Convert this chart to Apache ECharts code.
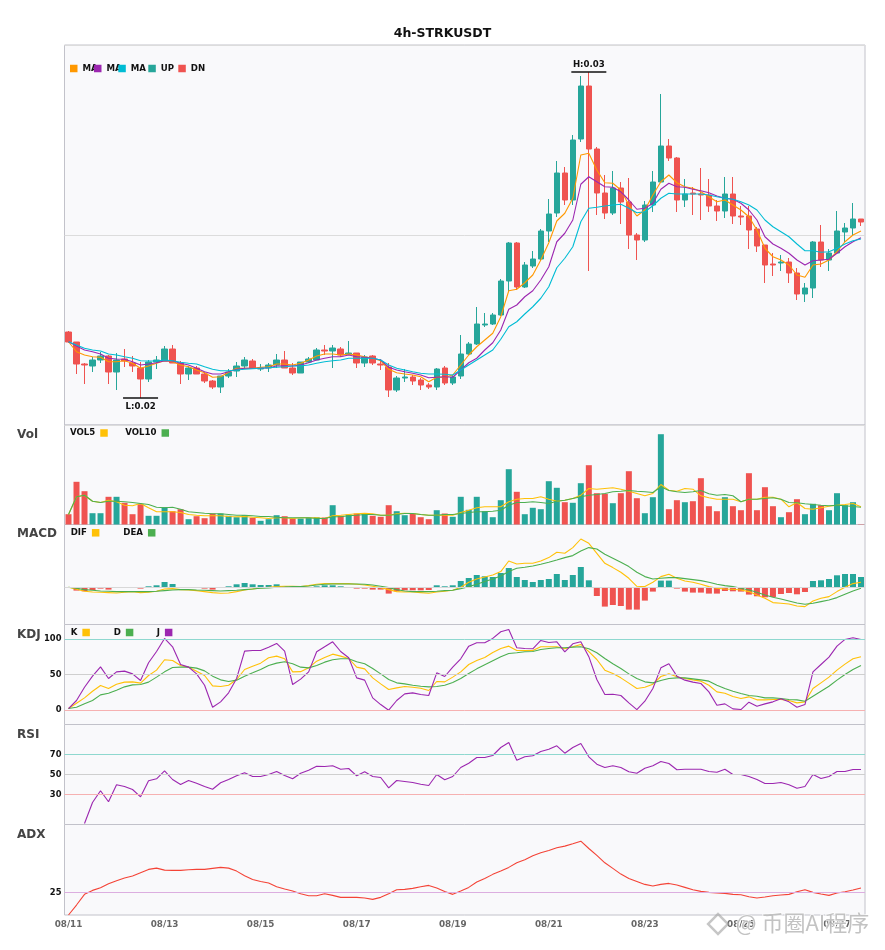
<!DOCTYPE html>
<html>
<head>
<meta charset="utf-8">
<title>4h-STRKUSDT</title>
<script src="https://cdn.jsdelivr.net/npm/echarts@6/dist/echarts.min.js"></script>
<style>
html, body { margin: 0; padding: 0; background: #fff; }
#chart { width: 885px; height: 950px; }
</style>
</head>
<body>
<div id="chart"></div>
<script>
// ---- values (100 x 4h candles from 08/11) ----
var open = [0.01892,0.01852,0.01764,0.01756,0.01780,0.01796,0.01732,0.01784,0.01768,0.01748,
0.01704,0.01772,0.01776,0.01824,0.01768,0.01724,0.01748,0.01724,0.01696,0.01672,
0.01716,0.01736,0.01756,0.01776,0.01744,0.01748,0.01760,0.01780,0.01748,0.01728,
0.01772,0.01780,0.01820,0.01816,0.01824,0.01804,0.01808,0.01768,0.01796,0.01764,
0.01752,0.01660,0.01708,0.01712,0.01700,0.01680,0.01672,0.01748,0.01688,0.01716,
0.01804,0.01844,0.01920,0.01924,0.01960,0.02096,0.02248,0.02072,0.02156,0.02184,
0.02296,0.02368,0.02528,0.02420,0.02664,0.02876,0.02624,0.02448,0.02368,0.02468,
0.02412,0.02280,0.02260,0.02400,0.02492,0.02636,0.02588,0.02420,0.02448,0.02444,
0.02440,0.02396,0.02376,0.02444,0.02356,0.02356,0.02304,0.02240,0.02164,0.02168,
0.02172,0.02128,0.02044,0.02068,0.02252,0.02180,0.02208,0.02292,0.02308,0.02344];

var close = [0.01852,0.01764,0.01760,0.01780,0.01796,0.01732,0.01780,0.01776,0.01756,0.01704,
0.01772,0.01780,0.01824,0.01768,0.01724,0.01748,0.01724,0.01696,0.01672,0.01716,
0.01732,0.01756,0.01780,0.01748,0.01748,0.01760,0.01780,0.01748,0.01728,0.01772,
0.01784,0.01820,0.01816,0.01828,0.01800,0.01808,0.01768,0.01792,0.01768,0.01760,
0.01660,0.01708,0.01712,0.01696,0.01680,0.01672,0.01744,0.01688,0.01712,0.01804,
0.01844,0.01924,0.01924,0.01960,0.02096,0.02248,0.02072,0.02160,0.02184,0.02296,
0.02364,0.02528,0.02420,0.02660,0.02876,0.02624,0.02448,0.02368,0.02468,0.02412,
0.02280,0.02260,0.02400,0.02492,0.02636,0.02588,0.02420,0.02444,0.02444,0.02440,
0.02396,0.02376,0.02444,0.02356,0.02352,0.02300,0.02236,0.02160,0.02160,0.02172,
0.02128,0.02044,0.02068,0.02252,0.02180,0.02208,0.02296,0.02308,0.02344,0.02332];

var high = [0.01896,0.01852,0.01768,0.01792,0.01812,0.01800,0.01808,0.01824,0.01796,0.01772,
0.01780,0.01796,0.01836,0.01840,0.01776,0.01756,0.01756,0.01732,0.01700,0.01716,
0.01744,0.01772,0.01792,0.01784,0.01764,0.01768,0.01804,0.01816,0.01768,0.01772,
0.01792,0.01828,0.01840,0.01840,0.01832,0.01856,0.01808,0.01800,0.01800,0.01784,
0.01768,0.01716,0.01744,0.01720,0.01708,0.01688,0.01748,0.01756,0.01720,0.01880,
0.01852,0.01992,0.01968,0.01968,0.02104,0.02252,0.02252,0.02172,0.02216,0.02304,
0.02424,0.02576,0.02552,0.02680,0.02916,0.02932,0.02632,0.02520,0.02536,0.02492,
0.02508,0.02288,0.02416,0.02536,0.02844,0.02664,0.02592,0.02504,0.02472,0.02548,
0.02504,0.02420,0.02512,0.02512,0.02396,0.02396,0.02312,0.02240,0.02208,0.02200,
0.02188,0.02148,0.02088,0.02256,0.02320,0.02224,0.02376,0.02328,0.02408,0.02344];

var low = [0.01848,0.01724,0.01684,0.01732,0.01768,0.01684,0.01660,0.01752,0.01732,0.01628,
0.01692,0.01744,0.01776,0.01768,0.01684,0.01700,0.01724,0.01688,0.01664,0.01648,
0.01708,0.01712,0.01744,0.01748,0.01736,0.01732,0.01748,0.01748,0.01720,0.01728,
0.01768,0.01780,0.01800,0.01748,0.01792,0.01804,0.01748,0.01752,0.01760,0.01740,
0.01632,0.01652,0.01692,0.01680,0.01660,0.01664,0.01660,0.01680,0.01680,0.01704,
0.01800,0.01840,0.01912,0.01920,0.01956,0.02056,0.02060,0.02068,0.02148,0.02176,
0.02252,0.02352,0.02400,0.02400,0.02652,0.02136,0.02360,0.02344,0.02360,0.02324,
0.02224,0.02180,0.02252,0.02372,0.02492,0.02576,0.02372,0.02392,0.02360,0.02340,
0.02372,0.02336,0.02348,0.02324,0.02320,0.02224,0.02212,0.02088,0.02116,0.02136,
0.02088,0.02020,0.02012,0.02028,0.02152,0.02136,0.02208,0.02252,0.02280,0.02316];

var ma5 = [0.01853,0.01813,0.01800,0.01793,0.01791,0.01773,0.01773,0.01777,0.01767,0.01747,
0.01756,0.01767,0.01777,0.01773,0.01760,0.01753,0.01740,0.01729,0.01711,0.01713,
0.01731,0.01747,0.01747,0.01747,0.01751,0.01753,0.01764,0.01764,0.01760,0.01767,
0.01780,0.01796,0.01804,0.01804,0.01800,0.01804,0.01800,0.01793,0.01787,0.01777,
0.01743,0.01729,0.01724,0.01720,0.01713,0.01693,0.01711,0.01711,0.01720,0.01760,
0.01800,0.01833,0.01860,0.01887,0.01953,0.02057,0.02063,0.02089,0.02120,0.02180,
0.02249,0.02336,0.02367,0.02427,0.02600,0.02607,0.02540,0.02489,0.02487,0.02460,
0.02400,0.02356,0.02380,0.02440,0.02493,0.02520,0.02489,0.02473,0.02467,0.02453,
0.02433,0.02413,0.02420,0.02400,0.02380,0.02353,0.02300,0.02227,0.02193,0.02180,
0.02160,0.02120,0.02111,0.02160,0.02164,0.02180,0.02213,0.02253,0.02280,0.02296];

var ma10 = [0.01853,0.01836,0.01820,0.01813,0.01804,0.01787,0.01784,0.01783,0.01773,0.01760,
0.01764,0.01769,0.01777,0.01776,0.01767,0.01760,0.01747,0.01733,0.01724,0.01724,
0.01733,0.01743,0.01747,0.01747,0.01747,0.01749,0.01756,0.01757,0.01756,0.01760,
0.01769,0.01780,0.01787,0.01793,0.01793,0.01800,0.01793,0.01791,0.01787,0.01780,
0.01751,0.01740,0.01733,0.01727,0.01720,0.01709,0.01711,0.01713,0.01711,0.01740,
0.01769,0.01787,0.01820,0.01849,0.01900,0.01983,0.02000,0.02033,0.02057,0.02100,
0.02153,0.02253,0.02287,0.02340,0.02483,0.02513,0.02493,0.02473,0.02471,0.02453,
0.02420,0.02383,0.02387,0.02407,0.02463,0.02487,0.02473,0.02471,0.02463,0.02457,
0.02449,0.02436,0.02427,0.02423,0.02407,0.02380,0.02340,0.02273,0.02244,0.02227,
0.02207,0.02180,0.02160,0.02177,0.02180,0.02183,0.02207,0.02233,0.02253,0.02269];

var ma20 = [0.01853,0.01840,0.01827,0.01820,0.01816,0.01804,0.01800,0.01793,0.01787,0.01777,
0.01776,0.01776,0.01780,0.01777,0.01771,0.01767,0.01764,0.01753,0.01743,0.01737,
0.01737,0.01740,0.01743,0.01745,0.01747,0.01749,0.01751,0.01753,0.01756,0.01756,
0.01760,0.01767,0.01773,0.01777,0.01780,0.01787,0.01787,0.01787,0.01787,0.01780,
0.01760,0.01747,0.01740,0.01733,0.01727,0.01724,0.01724,0.01723,0.01720,0.01740,
0.01760,0.01780,0.01800,0.01820,0.01863,0.01913,0.01933,0.01964,0.01993,0.02027,
0.02073,0.02149,0.02187,0.02233,0.02333,0.02387,0.02391,0.02396,0.02400,0.02403,
0.02387,0.02369,0.02373,0.02397,0.02427,0.02447,0.02444,0.02444,0.02444,0.02444,
0.02440,0.02433,0.02427,0.02423,0.02413,0.02400,0.02380,0.02340,0.02313,0.02293,
0.02273,0.02244,0.02217,0.02217,0.02211,0.02213,0.02227,0.02244,0.02257,0.02264];

// volume, millions
var vol = [1.03,4.27,3.33,1.13,1.13,2.77,2.77,2.17,1.03,2.03,
0.87,0.87,1.73,1.33,1.53,0.53,0.83,0.63,1.10,1.10,
0.87,0.73,0.93,0.67,0.37,0.53,0.93,0.83,0.60,0.60,
0.67,0.73,0.70,1.93,0.87,1.00,1.10,1.07,0.87,0.77,
1.93,1.33,0.93,1.07,0.73,0.53,1.43,1.10,0.77,2.77,
1.47,2.77,1.33,0.73,2.43,5.53,3.27,1.03,1.67,1.53,
4.33,3.67,2.23,2.17,4.13,5.93,3.13,3.07,2.13,3.13,
5.33,2.63,1.13,2.73,9.03,1.53,2.43,2.23,2.33,4.63,
1.83,1.33,2.73,1.83,1.43,5.13,1.43,3.73,1.83,0.73,
1.23,2.53,1.03,2.07,1.93,1.43,3.13,1.93,2.23,0.03];

var vol5 = [1.00,2.77,2.93,2.33,2.20,2.43,2.27,1.93,1.87,2.10,
1.67,1.27,1.27,1.27,1.20,1.00,0.93,0.87,0.87,0.87,
0.80,0.77,0.80,0.73,0.67,0.60,0.67,0.67,0.60,0.67,
0.67,0.67,0.60,0.87,0.93,1.00,1.07,1.13,1.07,0.93,
0.93,1.07,1.13,1.10,1.00,0.93,0.93,0.93,0.93,1.20,
1.43,1.67,1.77,1.77,1.77,2.27,2.53,2.60,2.60,2.77,
2.53,2.33,2.43,2.60,2.93,3.60,3.53,3.60,3.67,3.53,
3.33,3.10,2.87,3.10,4.00,3.43,3.33,3.60,3.53,2.87,
2.67,2.53,2.53,2.53,2.27,2.53,2.53,2.73,2.73,2.53,
1.77,2.20,1.60,1.53,1.67,1.83,1.93,2.00,2.10,1.77];

var vol10 = [1.00,2.77,2.93,2.33,2.20,2.33,2.33,2.27,2.20,2.10,
2.00,1.73,1.67,1.73,1.53,1.27,1.20,1.13,1.07,1.07,
1.00,0.93,0.93,0.87,0.80,0.80,0.73,0.67,0.67,0.67,
0.67,0.60,0.60,0.77,0.77,0.87,0.93,1.00,1.00,0.93,
0.93,1.00,1.10,1.10,1.00,0.93,0.93,1.00,1.00,1.10,
1.20,1.27,1.27,1.33,1.43,1.93,2.20,2.20,2.27,2.20,
2.10,2.33,2.43,2.60,2.77,2.93,3.00,3.10,3.27,3.33,
3.40,3.33,3.27,3.20,3.77,3.40,3.27,3.20,3.27,3.40,
3.07,2.93,3.00,2.87,2.27,2.53,2.53,2.60,2.67,2.53,
2.20,2.17,2.07,2.00,1.93,1.87,1.93,1.87,1.80,1.73];

var dif = [0,-2.0e-5,-4.0e-5,-4.7e-5,-5.0e-5,-5.3e-5,-5.7e-5,-5.0e-5,-4.3e-5,-5.3e-5,
-5.0e-5,-4.0e-5,-1.7e-5,-1.3e-5,-2.3e-5,-2.7e-5,-3.3e-5,-4.3e-5,-5.3e-5,-6.0e-5,
-5.7e-5,-4.3e-5,-2.7e-5,-1.7e-5,-0.7e-5,0,0.7e-5,1.0e-5,1.0e-5,0.7e-5,
1.7e-5,3.0e-5,3.7e-5,3.7e-5,3.7e-5,3.7e-5,3.0e-5,2.3e-5,1.0e-5,-0.3e-5,
-2.3e-5,-4.3e-5,-4.7e-5,-4.7e-5,-5.3e-5,-6.0e-5,-4.7e-5,-4.0e-5,-3.0e-5,0,
5.0e-5,8.3e-5,10.3e-5,12.3e-5,15.7e-5,26.3e-5,23.3e-5,24.0e-5,24.0e-5,26.3e-5,
29.7e-5,35.0e-5,34.0e-5,39.7e-5,48.3e-5,44.0e-5,34.0e-5,24.0e-5,19.7e-5,15.0e-5,
9.0e-5,1.0e-5,0.7e-5,5.0e-5,10.7e-5,13.0e-5,9.0e-5,6.3e-5,5.0e-5,3.0e-5,
0.7e-5,-1.0e-5,-1.7e-5,-2.0e-5,-2.7e-5,-4.3e-5,-7.7e-5,-11.0e-5,-15.3e-5,-16.0e-5,
-16.7e-5,-18.7e-5,-19.3e-5,-13.7e-5,-11.0e-5,-9.3e-5,-4.3e-5,0,3.7e-5,5.0e-5];

var dea = [0,-1.0e-5,-2.3e-5,-3.0e-5,-3.7e-5,-4.0e-5,-4.3e-5,-4.3e-5,-4.3e-5,-4.3e-5,
-4.3e-5,-4.0e-5,-3.3e-5,-2.7e-5,-2.3e-5,-2.3e-5,-2.7e-5,-3.0e-5,-3.3e-5,-3.7e-5,
-3.3e-5,-3.0e-5,-2.3e-5,-1.7e-5,-1.0e-5,-0.7e-5,0,0.3e-5,0.7e-5,0.7e-5,
1.3e-5,2.3e-5,3.0e-5,3.3e-5,3.3e-5,3.3e-5,3.3e-5,3.0e-5,2.3e-5,1.0e-5,
-0.3e-5,-2.3e-5,-3.7e-5,-4.3e-5,-4.3e-5,-4.3e-5,-4.0e-5,-3.3e-5,-3.0e-5,-1.3e-5,
0.7e-5,3.0e-5,5.7e-5,8.3e-5,11.3e-5,15.7e-5,19.0e-5,20.0e-5,21.3e-5,23.0e-5,
25.0e-5,27.3e-5,29.7e-5,31.7e-5,36.3e-5,39.7e-5,38.3e-5,33.0e-5,29.0e-5,25.0e-5,
20.7e-5,15.0e-5,10.7e-5,8.3e-5,9.0e-5,9.7e-5,9.7e-5,8.7e-5,7.7e-5,6.7e-5,
5.0e-5,3.0e-5,1.7e-5,0.7e-5,-1.0e-5,-2.7e-5,-5.0e-5,-7.7e-5,-10.0e-5,-11.7e-5,
-13.7e-5,-15.7e-5,-17.0e-5,-16.0e-5,-14.3e-5,-12.7e-5,-10.3e-5,-7.0e-5,-3.7e-5,-1.0e-5];

var macdHist = [0,-3.3e-5,-4.0e-5,-2.7e-5,-1.3e-5,-2.3e-5,-0.7e-5,0,-0.3e-5,-1.3e-5,
1.0e-5,2.0e-5,5.3e-5,3.3e-5,0,0,-0.7e-5,-1.3e-5,-2.3e-5,-0.7e-5,
1.0e-5,3.0e-5,4.3e-5,3.0e-5,2.3e-5,2.3e-5,3.0e-5,1.0e-5,0.7e-5,0.3e-5,
0.3e-5,1.0e-5,2.0e-5,2.0e-5,1.0e-5,0,-1.3e-5,-1.3e-5,-2.3e-5,-2.3e-5,
-6.3e-5,-4.0e-5,-3.0e-5,-3.0e-5,-3.0e-5,-2.7e-5,2.0e-5,1.0e-5,2.0e-5,6.3e-5,
9.3e-5,12.3e-5,11.0e-5,10.3e-5,14.3e-5,19.3e-5,10.3e-5,7.3e-5,5.3e-5,7.3e-5,
8.3e-5,13.3e-5,7.3e-5,12.3e-5,20.3e-5,7.0e-5,-8.7e-5,-19.3e-5,-17.7e-5,-18.7e-5,
-22.3e-5,-22.3e-5,-13.3e-5,-4.3e-5,6.7e-5,6.7e-5,-1.3e-5,-4.3e-5,-5.3e-5,-5.3e-5,
-6.3e-5,-6.3e-5,-3.7e-5,-4.0e-5,-4.3e-5,-7.3e-5,-9.0e-5,-10.0e-5,-9.7e-5,-6.7e-5,
-5.7e-5,-7.0e-5,-4.7e-5,6.3e-5,7.0e-5,8.3e-5,12.0e-5,13.3e-5,13.3e-5,10.3e-5];

var kLine = [2.3,9.8,17.3,26.6,34.6,30.4,36.4,39.3,39.7,37.9,
48.6,56.1,70.6,69.6,62.6,60.3,54.7,48.6,34.1,33.2,
35.0,43.0,57.0,61.7,65.9,73.4,75.7,72.0,53.7,54.0,
59.3,68.7,73.8,78.5,75.7,72.4,60.3,57.9,45.3,36.9,
29.0,31.3,33.2,32.2,30.8,27.6,40.2,39.7,46.3,53.7,
64.0,69.6,73.8,80.8,86.4,89.7,83.6,83.6,83.6,88.8,
88.8,88.8,86.0,88.8,92.1,82.0,71.0,56.1,51.4,45.3,
37.9,30.4,32.2,36.4,47.2,50.9,46.7,44.4,42.5,40.7,
35.0,25.7,23.8,19.2,16.4,18.7,14.5,14.5,15.0,15.0,
13.6,10.3,11.7,30.4,38.3,46.3,56.1,64.5,72.0,74.8];

var dLine = [2.3,4.2,8.9,13.6,21.5,23.8,28.0,32.7,35.5,36.0,
39.3,46.3,53.7,59.8,60.3,60.3,58.9,55.1,47.7,42.5,
40.2,42.1,47.7,52.3,57.0,62.6,65.9,67.8,65.0,60.3,
59.3,62.6,67.3,70.6,72.0,72.0,67.8,65.0,58.4,50.9,
43.0,38.3,36.9,35.0,33.6,32.7,33.2,35.0,38.8,44.4,
51.4,57.9,63.6,69.2,74.8,79.4,80.4,81.8,82.2,85.0,
86.4,87.4,87.4,88.3,88.8,86.0,80.4,72.4,65.0,58.4,
50.9,44.4,39.7,38.3,41.6,44.4,45.3,45.3,43.9,42.5,
40.7,35.0,30.4,26.6,23.4,20.6,19.6,17.3,17.3,16.4,
15.0,14.5,12.6,19.6,26.6,33.6,42.1,50.0,57.0,62.6];

var jLine = [2.3,13.6,32.2,47.7,60.7,44.4,53.7,54.7,50.9,41.6,
66.4,82.2,100.5,88.8,64.0,60.3,50.9,35.0,4.2,11.7,
24.3,44.4,82.7,83.6,83.6,88.3,93.5,82.7,36.0,43.5,
53.7,81.8,88.8,95.8,82.2,73.4,45.3,42.1,17.3,7.9,
0,13.6,22.9,24.3,22.0,20.6,52.3,47.2,60.3,72.0,
89.7,94.4,94.4,100.5,109.8,113.1,87.4,86.4,86.0,97.7,
94.9,95.8,81.8,93.0,95.8,75.0,43.0,22.0,22.4,20.6,
10.3,0.9,12.6,30.4,59.3,65.0,47.7,42.1,39.3,37.4,
25.7,7.0,8.9,1.9,0.9,11.2,5.6,8.9,11.7,15.9,
11.7,4.2,7.9,53.7,64.0,74.3,89.7,99.1,101.4,99.1];

var rsi = ['-','-',1,22,33.7,22.7,39.7,38,35,27.7,
43.7,45.7,53.7,45,40,44,41.3,38,35.3,41.7,
45,48.7,51.7,48,48,50,53,49,45.7,51.3,
54.3,58.3,58,58.7,55.3,56,48.7,52.7,48,47,
36.7,44,43,42,40.3,39,50,44.7,48,57,
61.3,67,67,69,77,82,64.3,67.7,68.7,73,
75.3,78.7,71.3,77,81,67.7,60.3,57,58.7,57,
52.7,51.3,56.3,58.7,63,61,54.7,55.3,55.3,55.3,
53,52.3,55.3,50,50,48,45,41,41,42,
39.7,36.3,38,50,46,48,53,53,55,55];

var adx = [0,11,22.8,27.2,30.1,34.6,37.9,40.8,43,46.7,
50.4,51.8,49.6,49.3,49.3,50,50.4,50.4,51.5,52.6,
51.8,48.5,43.4,39.3,37.1,35.3,31.3,28.7,26.5,23.5,
21.3,21.3,23.5,21.7,19.5,19.5,19.5,18.8,17.3,19.5,
23.5,27.9,28.3,29.4,31.3,32.7,29.8,26,22.8,26.5,
30.5,36.4,40.4,44.9,48.5,52.6,57.7,61,65.4,68.8,
71.3,74.3,76.1,78.7,81.6,73.5,65.8,57.7,51.5,45.2,
40.4,37.1,33.8,32,33.8,34.9,33.1,30.5,27.9,26.1,
25,24.3,23.9,22.8,22.4,20.2,18.8,19.9,21.3,22.1,
22.8,25.7,27.9,25,23.2,21.7,24.3,25.7,27.6,29.8];

// 4h candle times
var times = [];
var t0 = Date.UTC(2025, 7, 11);
var p2 = function (n) { return (n < 10 ? '0' : '') + n; };
for (var i = 0; i < open.length; i++) {
    var d = new Date(t0 + i * 4 * 3600 * 1000);
    times.push(p2(d.getUTCMonth() + 1) + '/' + p2(d.getUTCDate()) + ' ' + p2(d.getUTCHours()) + ':00');
}

var UP = '#26A69A', DN = '#EF5350';
var FONT = 'DejaVu Sans';

var candles = [];
var volBars = [];
var histBars = [];
for (var j = 0; j < open.length; j++) {
    candles.push([open[j], close[j], low[j], high[j]]);
    volBars.push({value: vol[j], itemStyle: {color: close[j] >= open[j] ? UP : DN}});
    histBars.push({value: macdHist[j], itemStyle: {color: macdHist[j] >= 0 ? UP : DN}});
}

var chart = echarts.init(document.getElementById('chart'));

// panel layout
var gridTops = [45, 425, 524.5, 624.5, 724.5, 824.5];
var gridHeights = [380, 99.5, 100, 100, 100, 90.5];
var grids = [], xAxes = [];
for (var g = 0; g < gridTops.length; g++) {
    grids.push({
        left: 64.5, width: 800.5, top: gridTops[g], height: gridHeights[g],
        show: true, backgroundColor: '#f9f9fb', borderColor: '#c2c2ca', borderWidth: 1
    });
    xAxes.push({
        type: 'category', gridIndex: g, data: times, boundaryGap: true,
        axisLine: {show: false}, axisTick: {show: false}, splitLine: {show: false},
        axisLabel: g === 5 ? {
            show: true, interval: 11, margin: 5, color: '#666', fontWeight: 'bold',
            fontSize: 8.8, fontFamily: FONT,
            formatter: function (v) { return v.slice(0, 5); }
        } : {show: false}
    });
}

function onlyLabels(list) {
    return function (v) { return list.indexOf(Math.round(v)) >= 0 && Math.abs(v - Math.round(v)) < 1e-6 ? String(Math.round(v)) : ''; };
}
var yLabel = {show: true, margin: 3, color: '#111', fontWeight: 'bold', fontSize: 8.4, fontFamily: FONT};
function noAxis(extra) {
    var a = {type: 'value', axisLine: {show: false}, axisTick: {show: false}, splitLine: {show: false}, axisLabel: {show: false}};
    for (var k in extra) a[k] = extra[k];
    return a;
}
var yAxes = [
    noAxis({gridIndex: 0, min: 0.0152, max: 0.0304, interval: 0.0076, splitLine: {show: true, lineStyle: {color: '#dcdcdc'}}}),
    noAxis({gridIndex: 1, min: 0, max: 9.95}),
    noAxis({gridIndex: 2, min: -3.72e-4, max: 6.28e-4}),
    noAxis({gridIndex: 3, min: -20, max: 120, interval: 10,
        axisLabel: Object.assign({}, yLabel, {formatter: onlyLabels([0, 50, 100])})}),
    noAxis({gridIndex: 4, min: 0, max: 100, interval: 10,
        axisLabel: Object.assign({}, yLabel, {formatter: onlyLabels([30, 50, 70])})}),
    noAxis({gridIndex: 5, min: 0, max: 100, interval: 5,
        axisLabel: Object.assign({}, yLabel, {formatter: onlyLabels([25])})})
];

function line(name, data, color, xi) {
    return {
        name: name, type: 'line', data: data, xAxisIndex: xi, yAxisIndex: xi, color: color,
        showSymbol: false, symbol: 'none', lineStyle: {width: 1.1, color: color}, silent: true
    };
}
function hLines(items) {
    return {
        silent: true, symbol: 'none', label: {show: false},
        lineStyle: {type: 'solid', width: 1},
        data: items.map(function (it) { return {yAxis: it[0], lineStyle: {color: it[1], type: 'solid', width: 1}}; })
    };
}

var markLabel = {show: true, color: '#111', fontWeight: 'bold', fontSize: 8.6, fontFamily: FONT};

var series = [
    {
        name: 'K线', type: 'candlestick', data: candles, xAxisIndex: 0, yAxisIndex: 0, barWidth: '74%',
        itemStyle: {color: UP, color0: DN, borderColor: UP, borderColor0: DN, borderWidth: 1},
        markPoint: {
            symbol: 'rect', symbolSize: [35, 1.5], itemStyle: {color: '#111'},
            data: [
                {name: 'H', type: 'max', valueDim: 'highest',
                    label: Object.assign({}, markLabel, {position: 'top', distance: 2,
                        formatter: function (p) { return 'H:' + p.value.toFixed(2); }})},
                {name: 'L', type: 'min', valueDim: 'lowest',
                    label: Object.assign({}, markLabel, {position: 'bottom', distance: 4,
                        formatter: function (p) { return 'L:' + p.value.toFixed(2); }})}
            ]
        }
    },
    line('MA5', ma5, '#FF9800', 0),
    line('MA10', ma10, '#9C27B0', 0),
    line('MA20', ma20, '#00BCD4', 0),
    {name: 'UP', type: 'line', data: [], xAxisIndex: 0, yAxisIndex: 0, color: UP},
    {name: 'DN', type: 'line', data: [], xAxisIndex: 0, yAxisIndex: 0, color: DN},

    {name: 'Vol', type: 'bar', data: volBars, xAxisIndex: 1, yAxisIndex: 1, barWidth: '75%', silent: true},
    line('VOL5', vol5, '#FFC107', 1),
    line('VOL10', vol10, '#4CAF50', 1),

    {name: 'MACD', type: 'bar', data: histBars, xAxisIndex: 2, yAxisIndex: 2, barWidth: '75%', silent: true,
        markLine: hLines([[0, '#d8d8d8']])},
    line('DIF', dif, '#FFC107', 2),
    line('DEA', dea, '#4CAF50', 2),

    line('K', kLine, '#FFC107', 3),
    line('D', dLine, '#4CAF50', 3),
    line('J', jLine, '#9C27B0', 3),

    line('RSI', rsi, '#9C27B0', 4),
    line('ADX', adx, '#F44336', 5)
];
series[12].markLine = hLines([[100, '#8fd8cf'], [50, '#cfcfcf'], [0, '#f6b1b1']]);
series[15].markLine = hLines([[70, '#8fd8cf'], [50, '#cfcfcf'], [30, '#f6b1b1']]);
series[16].markLine = hLines([[25, '#dcaee0']]);

// one legend per item so each sits where the picture has it
var legendSpec = [
    // name, left, top, icon side, text box width
    ['MA5', 70, 64, 'left'], ['MA10', 94, 64, 'left'], ['MA20', 118.3, 64, 'left'],
    ['UP', 148.3, 64, 'left'], ['DN', 178.3, 64, 'left'],
    ['VOL5', 70, 428.5, 'right', 26], ['VOL10', 125.3, 428.5, 'right', 32.7],
    ['DIF', 70.7, 528.3, 'right', 21], ['DEA', 123.3, 528.3, 'right', 24.4],
    ['K', 70.7, 628, 'right', 11.6], ['D', 113.7, 628, 'right', 12.3], ['J', 156.7, 628, 'right', 13.6]
];
var legends = legendSpec.map(function (s) {
    var ts = {fontSize: 8.6, fontWeight: 'bold', color: '#111', fontFamily: FONT};
    if (s[4]) ts.width = s[4];
    var lg = {
        data: [s[0]], left: s[1], top: s[2], align: s[3], padding: 0, itemGap: 0,
        icon: 'rect', itemWidth: 7.5, itemHeight: 7.5, selectedMode: false, textStyle: ts
    };
    if (s[0].indexOf('MA') === 0) lg.formatter = 'MA';
    return lg;
});

var panelTitle = function (txt, top) {
    return {text: txt, left: 17, top: top, padding: 0,
        textStyle: {fontSize: 12, fontWeight: 'bold', color: '#444', fontFamily: FONT}};
};

chart.setOption({
    animation: false,
    backgroundColor: '#ffffff',
    textStyle: {fontFamily: FONT},
    title: [
        {text: '4h-STRKUSDT', left: 'center', top: 27, padding: 0,
            textStyle: {fontSize: 12.5, fontWeight: 'bold', color: '#111', fontFamily: FONT}},
        panelTitle('Vol', 429),
        panelTitle('MACD', 528),
        panelTitle('KDJ', 629),
        panelTitle('RSI', 729),
        panelTitle('ADX', 829)
    ],
    legend: legends,
    grid: grids,
    xAxis: xAxes,
    yAxis: yAxes,
    series: series,
    graphic: [
        {type: 'rect', x: 718, y: 924, rotation: Math.PI / 4, silent: true, z: 100,
            shape: {x: -7, y: -7, width: 14, height: 14},
            style: {fill: 'none', stroke: 'rgba(160,160,160,0.6)', lineWidth: 2.5}},
        {type: 'text', left: 735, top: 911, silent: true, z: 100,
            style: {text: '@ 币圈AI程序', font: '22px "Noto Sans CJK SC"', fill: 'rgba(175,175,175,0.75)',
                stroke: 'rgba(255,255,255,0.8)', lineWidth: 1.5}}
    ]
});
</script>
</body>
</html>
